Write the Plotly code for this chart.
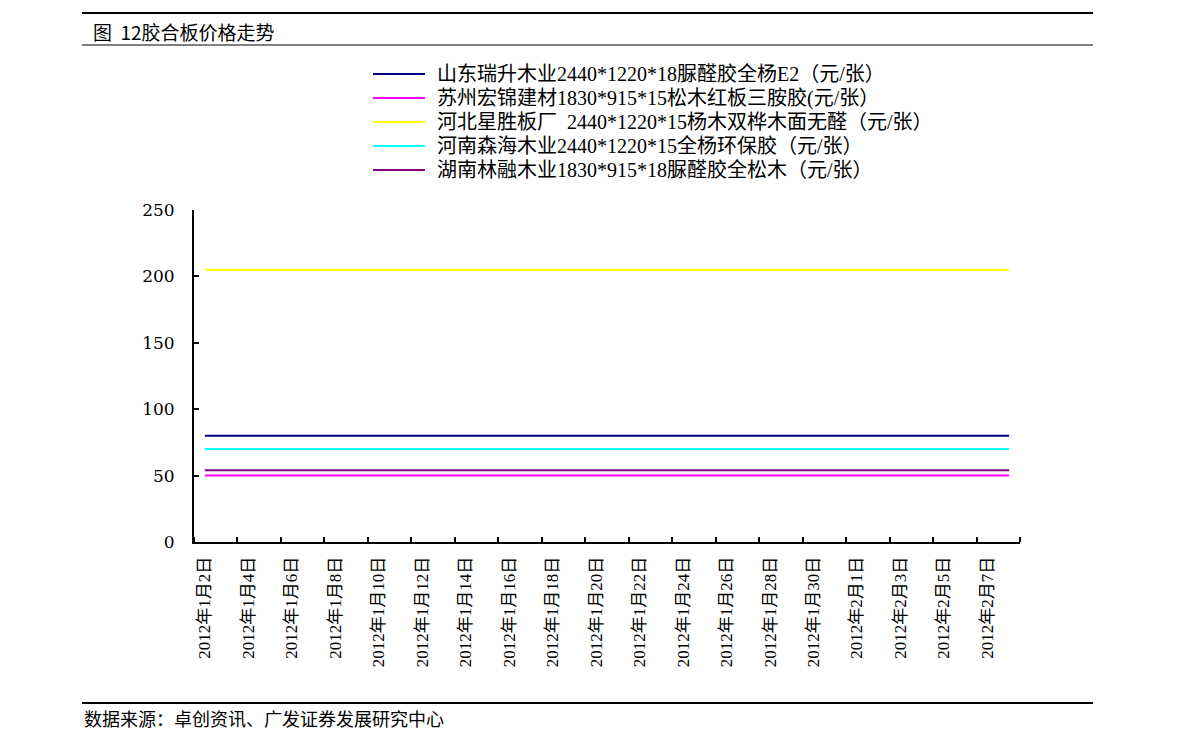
import plotly.graph_objects as go

# ---- data ----
dates = ["2012-01-02", "2012-01-09", "2012-01-16", "2012-01-20",
         "2012-01-30", "2012-02-06", "2012-02-08"]

names = [
    "山东瑞升木业2440*1220*18脲醛胶全杨E2（元/张）",
    "苏州宏锦建材1830*915*15松木红板三胺胶(元/张）",
    "河北星胜板厂  2440*1220*15杨木双桦木面无醛（元/张）",
    "河南森海木业2440*1220*15全杨环保胶（元/张）",
    "湖南林融木业1830*915*18脲醛胶全松木（元/张）",
]
shandong = [80, 80, 80, 80, 80, 80, 80]
suzhou = [50, 50, 50, 50, 50, 50, 50]
hebei = [205, 205, 205, 205, 205, 205, 205]
henan = [70, 70, 70, 70, 70, 70, 70]
hunan = [54, 54, 54, 54, 54, 54, 54]
colors = ["#000080", "#FF00FF", "#FFFF00", "#00FFFF", "#800080"]

tick_dates = ["2012-01-02", "2012-01-04", "2012-01-06", "2012-01-08", "2012-01-10",
              "2012-01-12", "2012-01-14", "2012-01-16", "2012-01-18", "2012-01-20",
              "2012-01-22", "2012-01-24", "2012-01-26", "2012-01-28", "2012-01-30",
              "2012-02-01", "2012-02-03", "2012-02-05", "2012-02-07"]
tick_text = ["2012年1月2日", "2012年1月4日", "2012年1月6日", "2012年1月8日", "2012年1月10日",
             "2012年1月12日", "2012年1月14日", "2012年1月16日", "2012年1月18日", "2012年1月20日",
             "2012年1月22日", "2012年1月24日", "2012年1月26日", "2012年1月28日", "2012年1月30日",
             "2012年2月1日", "2012年2月3日", "2012年2月5日", "2012年2月7日"]

# the page body has an 8px margin, so the figure is a bit smaller than the window
OFF = 8
W, H = 1191 - 2 * OFF, 752 - 2 * OFF
L, R, T, B = 194, 1020, 210, 542  # plot area in reference pixels


def px_x(p):
    return (p - L) / (R - L)


def px_y(p):
    return (B - p) / (B - T)


FONT = "Liberation Serif, Noto Sans CJK SC, serif"
CJK = "Noto Sans CJK SC"

fig = go.Figure()
for name, vals, col in zip(names, [shandong, suzhou, hebei, henan, hunan], colors):
    fig.add_trace(go.Scatter(x=dates, y=vals, name=name, mode="lines",
                             line=dict(color=col, width=2), showlegend=False))

fig.update_layout(
    width=W, height=H,
    margin=dict(l=L - OFF, r=W - (R - OFF), t=T - OFF, b=H - (B - OFF)),
    paper_bgcolor="white", plot_bgcolor="white",
    font=dict(family=FONT, size=16, color="black"),
)

fig.update_xaxes(
    type="date", range=["2012-01-01 12:00", "2012-02-08 12:00"],
    tickvals=tick_dates, ticktext=tick_text, tickangle=-90,
    ticks="", showgrid=False, zeroline=False,
    showline=True, linecolor="black", linewidth=2,
    tickfont=dict(family=FONT, size=17), ticklabelstandoff=6,
    minor=dict(ticks="inside", ticklen=5, tickcolor="black", tickwidth=2,
               tick0="2012-01-03 12:00", dtick=2 * 86400000, showgrid=False),
)
fig.update_yaxes(
    range=[0, 250], tickvals=[0, 50, 100, 150, 200, 250],
    ticks="inside", ticklen=5, tickwidth=2, tickcolor="black",
    showgrid=False, zeroline=False,
    showline=True, linecolor="black", linewidth=2,
    tickfont=dict(family="DejaVu Serif", size=17), ticklabelstandoff=14,
)

# legend drawn by hand (rows 24px apart as in the reference)
for i, (name, col) in enumerate(zip(names, colors)):
    y = px_y(74 + 24 * i)
    fig.add_shape(type="line", xref="paper", yref="paper",
                  x0=px_x(373), x1=px_x(425), y0=y, y1=y,
                  line=dict(color=col, width=2))
    fig.add_annotation(text=name, xref="paper", yref="paper",
                       x=px_x(435), y=y, xanchor="left", yanchor="middle",
                       showarrow=False, font=dict(family=FONT, size=20))

# header / footer rules and texts
rules = [(13, 2), (45, 1), (703, 2)]
for y, w in rules:
    fig.add_shape(type="line", xref="paper", yref="paper",
                  x0=px_x(82), x1=px_x(1093), y0=px_y(y), y1=px_y(y),
                  line=dict(color="black", width=w))

fig.add_annotation(text="图  12胶合板价格走势", xref="paper", yref="paper",
                   x=px_x(91), y=px_y(31), xanchor="left", yanchor="middle",
                   showarrow=False, font=dict(family=CJK, size=19))
fig.add_annotation(text="数据来源：卓创资讯、广发证券发展研究中心", xref="paper", yref="paper",
                   x=px_x(82), y=px_y(718), xanchor="left", yanchor="middle",
                   showarrow=False, font=dict(family=CJK, size=18))

fig.write_html("out.html")
